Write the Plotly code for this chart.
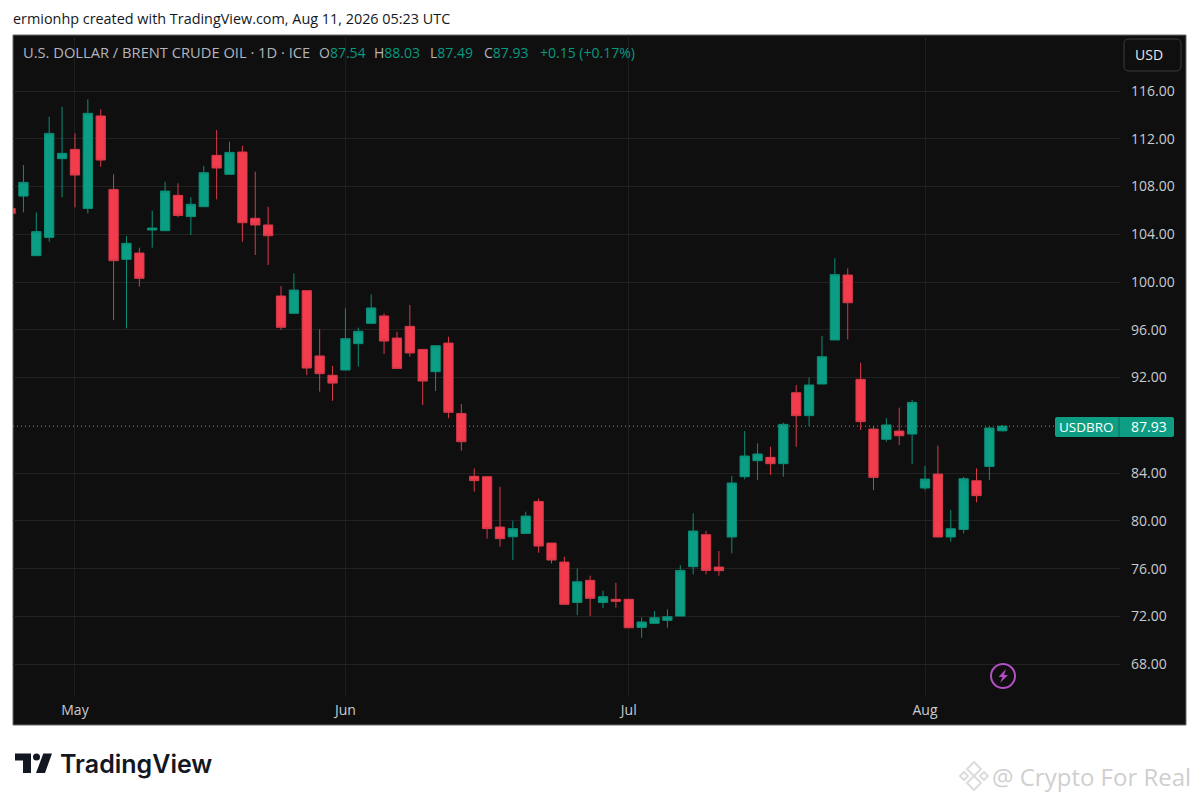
import pandas as pd
import plotly.graph_objects as go

# ---------- data ----------
DATES = pd.bdate_range("2026-04-24", periods=78).strftime("%Y-%m-%d").tolist()

OPENS = [106.17, 107.20, 102.21, 103.74, 110.33, 111.11, 106.17, 113.91, 107.76, 101.90,
         102.43, 104.36, 104.30, 107.26, 105.48, 106.31, 110.61, 109.02, 110.89, 105.34,
         104.78, 98.83, 97.38, 99.28, 93.81, 92.19, 92.63, 94.84, 96.54, 97.16,
         95.31, 96.29, 94.36, 92.49, 94.89, 89.00, 83.73, 83.70, 79.48, 78.67,
         78.95, 81.63, 78.14, 76.55, 73.17, 75.02, 73.17, 73.43, 73.43, 71.08,
         71.42, 71.67, 72.03, 76.16, 78.84, 76.13, 78.65, 83.70, 85.04, 85.32,
         84.79, 90.73, 88.81, 91.46, 95.15, 100.59, 91.85, 87.69, 86.83, 87.52,
         87.27, 82.75, 83.92, 78.65, 79.28, 83.36, 84.56, 87.54]
HIGHS = [106.17, 109.80, 105.84, 113.85, 114.69, 112.45, 115.30, 114.46, 109.02, 103.86,
         102.88, 105.98, 108.41, 108.27, 107.09, 109.72, 112.73, 111.76, 111.42, 109.24,
         106.31, 99.67, 100.73, 99.28, 96.04, 92.97, 97.80, 96.18, 98.97, 97.38,
         95.84, 98.08, 94.36, 94.67, 95.42, 89.79, 84.40, 83.70, 82.86, 80.01,
         80.77, 81.88, 78.14, 77.00, 76.02, 75.41, 74.15, 74.82, 73.43, 71.92,
         72.45, 72.59, 76.30, 80.63, 79.18, 77.47, 83.75, 87.52, 86.49, 86.21,
         88.22, 91.38, 92.02, 95.48, 101.99, 101.15, 93.25, 87.94, 88.59, 89.48,
         90.12, 84.59, 86.30, 80.91, 83.70, 84.40, 87.90, 88.03]
LOWS = [105.75, 105.84, 102.21, 103.38, 107.10, 106.26, 105.75, 109.66, 96.82, 96.12,
        99.61, 102.88, 104.30, 105.42, 103.94, 106.31, 106.93, 109.02, 103.38, 102.27,
        101.43, 95.98, 97.38, 92.21, 90.82, 90.06, 92.63, 92.91, 96.54, 93.97,
        92.77, 93.75, 89.70, 90.87, 88.59, 85.88, 82.44, 78.51, 77.84, 76.72,
        78.95, 77.33, 76.44, 73.01, 72.11, 72.03, 72.70, 72.73, 71.05, 70.21,
        71.42, 71.05, 72.03, 75.52, 75.52, 75.41, 77.28, 83.48, 83.42, 83.84,
        83.70, 86.21, 87.94, 91.46, 95.15, 95.20, 87.61, 82.58, 86.63, 86.35,
        84.76, 82.58, 78.65, 78.26, 78.95, 81.55, 83.42, 87.49]
CLOSES = [105.75, 108.35, 104.22, 112.45, 110.78, 108.96, 114.13, 110.22, 101.79, 103.24,
          100.31, 104.52, 107.62, 105.58, 106.51, 109.16, 109.55, 110.86, 104.97, 104.78,
          103.88, 96.21, 99.33, 92.80, 92.33, 91.54, 95.26, 95.87, 97.83, 95.06,
          92.77, 94.06, 91.71, 94.67, 89.09, 86.63, 83.37, 79.35, 78.51, 79.35,
          80.40, 77.89, 76.72, 73.01, 74.90, 73.51, 73.65, 73.26, 71.05, 71.53,
          71.89, 71.97, 75.85, 79.15, 75.85, 75.83, 83.17, 85.43, 85.60, 84.79,
          88.08, 88.81, 91.38, 93.75, 100.62, 98.27, 88.31, 83.64, 88.03, 87.13,
          89.92, 83.50, 78.65, 79.34, 83.53, 82.11, 87.78, 87.93]

PRICE_TICKS = [68, 72, 76, 80, 84, 92, 96, 100, 104, 108, 112, 116]
MONTH_DATES = ["2026-05-01", "2026-06-01", "2026-07-01", "2026-08-03"]
MONTH_LABELS = ["May", "Jun", "Jul", "Aug"]
LAST_PRICE = 87.93

HEADER = "ermionhp created with TradingView.com, Aug 11, 2026 05:23 UTC"
SYMBOL = "U.S. DOLLAR / BRENT CRUDE OIL · 1D · ICE"
OHLC_PARTS = [("O", "87.54"), ("H", "88.03"), ("L", "87.49"), ("C", "87.93")]
CHANGE = "+0.15 (+0.17%)"

# ---------- constants ----------
WIDTH, HEIGHT = 1199, 801
LEFT, RIGHT, TOP, BOTTOM = 13, 1120, 35, 697
BODY_MARGIN = 8  # the page body pushes the plot div in by this much
PANEL = "#0f0f0f"
UP = "#089981"
DOWN = "#f23645"
FONT = "Open Sans"


# ---------- helpers ----------
def px(x):
    return (x - LEFT) / (RIGHT - LEFT)


def py(y):
    return (BOTTOM - y) / (BOTTOM - TOP)


def pixel_path(points):
    return "M " + " L ".join(f"{px(x)} {py(y)}" for x, y in points) + " Z"


def rounded_path(x0, y0, x1, y1, r):
    a = f"M {px(x0 + r)} {py(y0)} L {px(x1 - r)} {py(y0)} Q {px(x1)} {py(y0)} {px(x1)} {py(y0 + r)} "
    b = f"L {px(x1)} {py(y1 - r)} Q {px(x1)} {py(y1)} {px(x1 - r)} {py(y1)} "
    c = f"L {px(x0 + r)} {py(y1)} Q {px(x0)} {py(y1)} {px(x0)} {py(y1 - r)} "
    d = f"L {px(x0)} {py(y0 + r)} Q {px(x0)} {py(y0)} {px(x0 + r)} {py(y0)} Z"
    return a + b + c + d


def paper_shape(**kw):
    return dict(xref="paper", yref="paper", **kw)


def label(x, y, text, size, color, anchor="left", family=FONT, weight=None):
    font = dict(size=size, color=color, family=family)
    if weight:
        font["weight"] = weight
    return dict(x=px(x), y=py(y), xref="paper", yref="paper", text=text, showarrow=False,
                xanchor=anchor, yanchor="middle", font=font, borderpad=0)


fig = go.Figure(go.Candlestick(
    x=DATES, open=OPENS, high=HIGHS, low=LOWS, close=CLOSES,
    increasing=dict(line=dict(color="#0b8f78", width=1), fillcolor="#0c9e84"),
    decreasing=dict(line=dict(color="#d83a49", width=1), fillcolor="#f23b4d"),
    whiskerwidth=0,
    hoverinfo="skip",
    showlegend=False,
))

shapes = [
    # black panel
    paper_shape(type="rect", x0=px(13), x1=px(1186), y0=py(35), y1=py(725),
                fillcolor=PANEL, line=dict(color="#6a6a6a", width=1), layer="below"),
    # last price line
    dict(type="line", xref="paper", yref="y", x0=px(13), x1=px(1055), y0=LAST_PRICE, y1=LAST_PRICE,
         line=dict(color="#5f9a8e", width=1, dash="1px,3px")),
    # last price tag
    paper_shape(type="path", path=rounded_path(1055, 417, 1174, 437, 2),
                fillcolor="#0d9e84", line=dict(width=0)),
    paper_shape(type="line", x0=px(1119), x1=px(1119), y0=py(417), y1=py(437),
                line=dict(color="#0b6f5d", width=1)),
    # USD button
    paper_shape(type="path", path=rounded_path(1124, 39, 1181, 71, 5),
                fillcolor=PANEL, line=dict(color="#3c3c3c", width=1)),
    # lightning icon
    paper_shape(type="circle", x0=px(991), x1=px(1015), y0=py(664), y1=py(688),
                line=dict(color="#b24fc4", width=2)),
    paper_shape(type="path", path=pixel_path([(1006, 669), (998.5, 677), (1002.5, 677), (1000, 683),
                                              (1008, 675), (1004, 675)]),
                fillcolor="#b24fc4", line=dict(width=0)),
    # TradingView logo
    paper_shape(type="path", path=pixel_path([(15, 753.5), (31, 753.5), (31, 773), (23, 773), (23, 760.5), (15, 760.5)]),
                fillcolor="#131722", line=dict(width=0)),
    paper_shape(type="circle", x0=px(33), x1=px(40), y0=py(753.5), y1=py(760.5),
                fillcolor="#131722", line=dict(width=0)),
    paper_shape(type="path", path=pixel_path([(43.3, 753.5), (52, 753.5), (45, 773), (36, 773)]),
                fillcolor="#131722", line=dict(width=0)),
    # watermark icon
    paper_shape(type="path", path=pixel_path([(974, 762), (981, 769), (974, 776), (967, 769)]),
                line=dict(color="#dcdcdc", width=2)),
    paper_shape(type="path", path=pixel_path([(974, 776), (981, 783), (974, 790), (967, 783)]),
                line=dict(color="#dcdcdc", width=2)),
    paper_shape(type="path", path=pixel_path([(964, 772), (968, 776), (964, 780), (960, 776)]),
                line=dict(color="#dcdcdc", width=2)),
    paper_shape(type="path", path=pixel_path([(984, 772), (988, 776), (984, 780), (980, 776)]),
                line=dict(color="#dcdcdc", width=2)),
]

annotations = [
    label(12, 19, HEADER, 14.4, "#131722"),
    label(22, 52.5, SYMBOL, 14.7, "#b2b5be"),
    label(539, 52.5, CHANGE, 14, UP),
    label(1149, 54, "USD", 14, "#e8e8e8", anchor="center"),
    label(1086, 427, "USDBRO", 13.5, "#ffffff", anchor="center"),
    label(1149, 427, f"{LAST_PRICE:.2f}", 14, "#ffffff", anchor="center"),
    label(59, 764, "TradingView", 25, "#131722", family="Inter", weight=600),
    label(991, 776, "@ Crypto For Real", 24, "#cfcfcf"),
]
for (letter, value), x in zip(OHLC_PARTS, [317.5, 373, 429, 483]):
    annotations.append(label(x, 52.5, f'{letter}<span style="color:{UP}">{value}</span>', 14, "#b2b5be"))

fig.update_layout(
    width=WIDTH - BODY_MARGIN, height=HEIGHT - BODY_MARGIN,
    margin=dict(l=LEFT - BODY_MARGIN, r=WIDTH - RIGHT, t=TOP - BODY_MARGIN, b=HEIGHT - BOTTOM, pad=0),
    paper_bgcolor="#ffffff",
    plot_bgcolor=PANEL,
    boxgap=0.28,
    boxgroupgap=0,
    hovermode=False,
    dragmode=False,
    showlegend=False,
    xaxis=dict(
        type="category",
        categoryorder="array",
        categoryarray=DATES,
        rangeslider=dict(visible=False),
        range=[0.19, 86.14],
        tickvals=MONTH_DATES,
        ticktext=MONTH_LABELS,
        tickfont=dict(size=14, color="#c9cbd1", family=FONT),
        ticklen=0,
        ticklabelstandoff=3,
        showgrid=True,
        gridcolor="#1f1f1f",
        gridwidth=1,
        zeroline=False,
        showline=False,
    ),
    yaxis=dict(
        side="right",
        range=[65.25, 120.69],
        tickvals=PRICE_TICKS,
        tickformat=".2f",
        tickfont=dict(size=14, color="#c9cbd1", family=FONT),
        ticklen=0,
        ticklabelstandoff=10,
        showgrid=True,
        gridcolor="#222222",
        gridwidth=1,
        zeroline=False,
        showline=False,
    ),
    shapes=shapes,
    annotations=annotations,
)

fig.write_html("out.html")
